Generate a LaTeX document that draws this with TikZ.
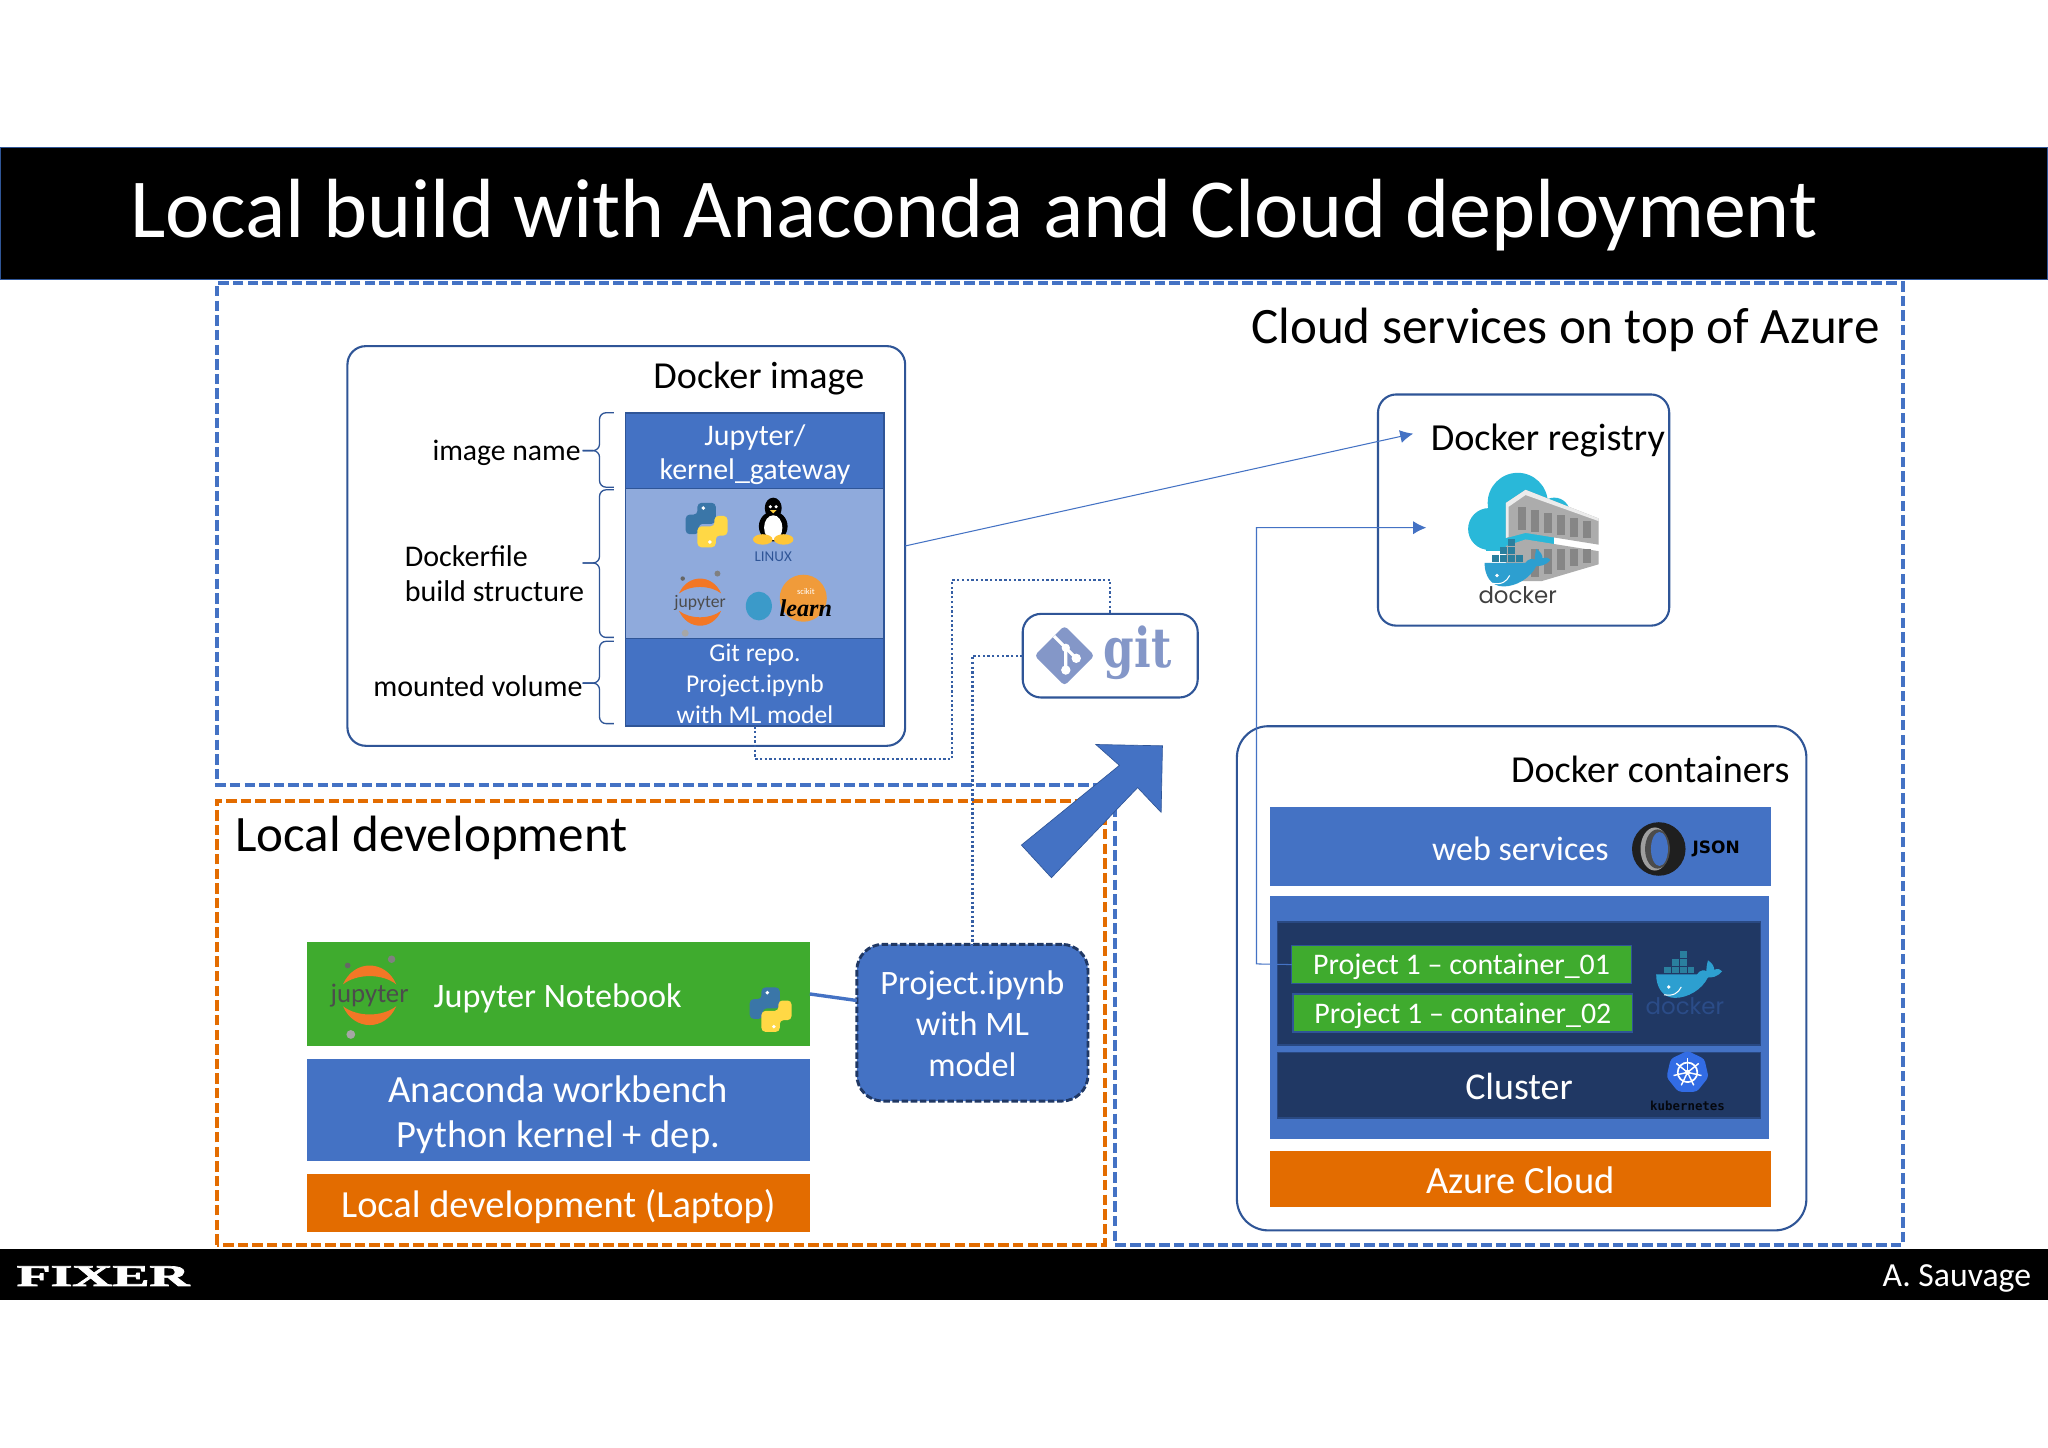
\documentclass[tikz,border=0pt]{standalone}
\usepackage{fontspec}
\usepackage{graphicx}
\setmainfont{Carlito}
\newfontfamily\lserif{Liberation Serif}
\newfontfamily\fatserif[FakeBold=2.2]{Liberation Serif Bold}
\newfontfamily\dserif{DejaVu Serif}
\newfontfamily\dsans{DejaVu Sans}
\newfontfamily\dmono{DejaVu Sans Mono}
\newfontfamily\popp{Poppins}
\usetikzlibrary{calc,arrows.meta}
\definecolor{mblue}{HTML}{4472C4}
\definecolor{mline}{HTML}{2F5597}
\definecolor{mlight}{HTML}{8FAADC}
\definecolor{mdark}{HTML}{203864}
\definecolor{mgreen}{HTML}{3FAB2E}
\definecolor{morange}{HTML}{E36C00}
\definecolor{pyblue}{HTML}{3A76A8}
\definecolor{pyyellow}{HTML}{FFD845}
\definecolor{juporange}{HTML}{F37726}
\definecolor{gitc}{HTML}{8497C8}
\definecolor{whale}{HTML}{2D9FD0}
\definecolor{whaledark}{HTML}{2A7F9E}
\definecolor{skorange}{HTML}{F09B3A}
\definecolor{skblue}{HTML}{3B9AC9}
\definecolor{kblue}{HTML}{326CE5}
\newcommand{\fs}[2]{\fontsize{#1}{#2}\selectfont}
\newcommand{\bx}[6]{\node[#6,minimum width={(#4-#2)*1pt},minimum height={(#5-#3)*1pt},anchor=north west,inner sep=0pt,outer sep=0pt] (#1) at (#2,#3) {};}
\newcommand{\tl}[4]{\node[label,text=white,align=center,font=#3] (#1text) at ($(#1.center)+(0,#2)$) {#4};}
\newcommand{\brc}[4]{\draw[braceline,rounded corners=5] (470,#1)--(459,#1)--(459,#3)--(#4,#3);\draw[braceline,rounded corners=5] (470,#2)--(459,#2)--(459,#3)--(#4,#3);}
\tikzset{
  panel/.style={draw=mline,line width=1.6pt,rounded corners=14pt,fill=white},
  solidblue/.style={fill=mblue},
  solidgreen/.style={fill=mgreen,draw=mline,line width=1pt},
  solidorange/.style={fill=morange},
  soliddark/.style={fill=mdark,draw=mline!60!mdark,line width=1pt},
  stackbox/.style={fill=mblue,draw=mline,line width=1.2pt},
  framed/.style={line width=3pt,dash pattern=on 8pt off 3.2pt},
  dotline/.style={draw=mline!70!mblue,line width=1.8pt,dash pattern=on 1.8pt off 1.8pt},
  thinline/.style={draw=mblue,line width=0.8pt},
  braceline/.style={draw=mline,line width=1pt},
  tipline/.style={-{Latex[length=10pt,width=10pt]}},
  label/.style={inner sep=0pt,outer sep=0pt,text=black},
  pics/pylogo/.style={code={
    \fill[pyblue,rounded corners=3] (-7,-17)--(7,-17)--(7,-1)--(-6,-1)--(-6,7)--(-16,7)--(-16,-8)--(-7,-8)--cycle;
    \begin{scope}[rotate=180]
    \fill[pyyellow,rounded corners=3] (-7,-17)--(7,-17)--(7,-1)--(-6,-1)--(-6,7)--(-16,7)--(-16,-8)--(-7,-8)--cycle;
    \fill[white] (-2.5,-13) circle (1.5);
    \end{scope}
    \fill[white] (-2.5,-13) circle (1.5);
  }},
  pics/tux/.style={code={
    \fill[black] (0,-11) ellipse (6.5 and 8);
    \fill[black] (0,3) ellipse (11 and 11.5);
    \fill[white] (0,4) ellipse (7 and 9.5);
    \fill[white] (-2.2,-12) circle (1.3);
    \fill[white] (2.2,-12) circle (1.3);
    \fill[pyyellow!90!orange] (-2.5,-9.5)--(2.5,-9.5)--(0,-7)--cycle;
    \fill[pyyellow!80!orange] (-8,13) ellipse (7.5 and 4);
    \fill[pyyellow!80!orange] (8,13) ellipse (7.5 and 4);
  }},
  pics/juparcs/.style={code={
    \fill[juporange] (-17,-7) .. controls (-10,-23) and (10,-23) .. (17,-7) .. controls (8,-14) and (-8,-14) .. cycle;
    \fill[juporange] (-17,7) .. controls (-10,23) and (10,23) .. (17,7) .. controls (8,14) and (-8,14) .. cycle;
    \fill[gray] (14,-23) circle (2.4);
    \fill[gray!80!black] (-14,-19) circle (1.8);
    \fill[gray!70] (-12,25) circle (2.8);
  }},
  pics/whalelogo/.style={code={
    \foreach \x/\y in {-12/-5,-7/-5,-2/-5,3/-5,-7/-10,-2/-10,-2/-15}{\fill[whaledark] (\x,\y) rectangle ++(4.4,4.4);}
    \fill[whale] (-17,0)--(9,0) .. controls (11,-3) and (14,-3) .. (15,-2) .. controls (15,-6) and (16,-8) .. (16,-9) .. controls (19,-7) and (20,-5) .. (20,-3) .. controls (23,-4) and (24,-3) .. (25,-2) .. controls (22,2) and (18,2) .. (16,2) .. controls (12,10) and (3,15) .. (-5,15) .. controls (-13,15) and (-17,8) .. cycle;
    \fill[white] (-9,8) circle (1.2);
    \draw[white,line width=.8pt] (-12,13) .. controls (-6,14) and (-3,12) .. (-1,8);
  }},
  pics/k8s/.style={code={
    \fill[kblue,rounded corners=2.5] (-90:16.5)--(-38.57:16.5)--(12.86:16.5)--(64.29:16.5)--(115.71:16.5)--(167.14:16.5)--(218.57:16.5)--cycle;
    \draw[white,line width=1.3pt] (0,0) circle (7.5);
    \fill[white] (0,0) circle (2);
    \foreach \a in {-90,-38.57,12.86,64.29,115.71,167.14,218.57}{\draw[white,line width=1.1pt] (0,0)--(\a:11);}
  }},
  pics/jsonring/.style={code={
    \fill[black!88] (0,0) circle (20.5);
    \fill[gray!75] (-3,0) ellipse (11 and 16.5);
    \fill[black!70] (-1,0) ellipse (9.5 and 15);
    \fill[mblue] (0.5,0) ellipse (6.5 and 13);
  }},
  pics/gitmark/.style={code={
    \fill[gitc,rounded corners=3] (0,-23)--(23,0)--(0,23)--(-23,0)--cycle;
    \draw[white,line width=2.4pt] (-8,-15)--(1,-6)--(1,11);
    \draw[white,line width=2.4pt] (1,-6)--(9,2);
    \fill[white] (1,-6) circle (3.2);
    \fill[white] (1,11) circle (3.6);
    \fill[white] (9,2) circle (3.6);
  }}
}
\begin{document}
\begin{tikzpicture}[x=1pt,y=-1pt]
\useasboundingbox (0,0) rectangle (1568,1108.6);
\fill[white] (0,0) rectangle (1568,1108.6);
% frames
\draw[framed,draw=mblue] (854,953)--(1457,953)--(1457,217)--(166,217)--(166,601)--(854,601)--cycle;
\draw[framed,draw=morange] (166,953)--(166,613)--(846,613)--(846,953)--cycle;
% header & footer
\bx{header}{0}{113}{1568}{214}{fill=black,draw=mline,line width=1pt}
\node[label,text=white,anchor=base west,font=\fs{64.3}{70}] (title) at (100,182) {Local build with Anaconda and Cloud deployment};
\bx{footer}{0}{956}{1568}{995}{fill=black}
\node[label,text=white,anchor=center,font=\fatserif\fs{23}{25}] (fixer) at (79,977) {\scalebox{1.85}[1]{FIXER}};
\node[label,text=white,anchor=east,font=\fs{25.8}{28}] (author) at (1555,979) {A. Sauvage};
% frame labels
\node[label,anchor=base east,font=\fs{39.1}{42}] (cloudlab) at (1439,263) {Cloud services on top of Azure};
\node[label,anchor=base west,font=\fs{39.1}{42}] (locallab) at (180,652) {Local development};
% docker image
\bx{dockerimg}{266}{265}{693}{571}{panel}
\node[label,font=\fs{29.2}{32}] (dilab) at (581,290) {Docker image};
\bx{imgname}{479}{316}{677}{374}{stackbox}
\tl{imgname}{3}{\fs{22.9}{27}}{Jupyter/\\[-.5pt]kernel\_gateway}
\bx{build}{479}{374}{677}{489}{stackbox,fill=mlight}
\bx{vol}{479}{489}{677}{556}{stackbox}
\tl{vol}{1}{\fs{19.6}{23.5}}{Git repo.\\Project.ipynb\\with ML model}
\pic at (541,402) {pylogo};
\pic at (592,400) {tux};
\node[label,text=mline,font=\fs{11.5}{13}] (linuxlab) at (592,426) {LINUX};
\pic[scale=.95] at (536,461) {juparcs};
\node[label,text=black!70,font=\fs{13.5}{15}] (juplab1) at (536,462) {jupyter};
\fill[skblue] (581,464) ellipse (10 and 11);
\fill[skorange] (615,458) circle (18);
\node[label,text=white,font=\fs{6.5}{7}] (sklab) at (617,453) {scikit};
\node[label,font=\lserif\bfseries\itshape\fs{18.5}{21}] (learnlab) at (617,466) {learn};
\brc{316}{373}{345}{446}
\brc{375}{488}{431}{446}
\brc{491}{554}{523}{446}
\node[label,anchor=east,font=\fs{22.7}{27}] (l1) at (444.5,346.5) {image name};
\node[label,anchor=west,align=left,font=\fs{23}{27}] (l2) at (310,439) {Dockerfile\\build structure};
\node[label,anchor=east,font=\fs{23}{27}] (l3) at (446,525) {mounted volume};
% git
\bx{gitbox}{783}{470}{917}{534}{panel}
\pic at (815,502) {gitmark};
\node[label,text=gitc,font=\dserif\bfseries\fs{42}{44}] (gitlab) at (871,500) {\scalebox{.8}[1]{git}};
% registry
\bx{registry}{1055}{302}{1278}{479}{panel}
\node[label,font=\fs{29.3}{32}] (reglab) at (1185,337) {Docker registry};
\fill[skblue!70!cyan] (1140,405) circle (16);
\fill[skblue!70!cyan] (1162,385) circle (23);
\fill[skblue!70!cyan] (1190,393) circle (12);
\fill[skblue!70!cyan] (1138,395) rectangle (1190,422);
\fill[gray!65] (1153,385)--(1168,375)--(1224,397)--(1224,417)--(1168,408)--(1153,412)--cycle;
\fill[white!85!gray] (1153,385)--(1168,375)--(1224,397)--(1224,399)--(1168,379)--(1155,388)--(1155,411)--(1153,412)--cycle;
\foreach \x in {1162,1172,1182,1192,1202,1212}{\fill[gray!95] (\x,{388+(\x-1162)*.22}) rectangle ++(6,{18-(\x-1162)*.1});}
\fill[gray!65] (1153,418)--(1168,413)--(1224,422)--(1224,432)--(1180,445)--(1153,445)--cycle;
\foreach \x in {1172,1182,1192,1202,1212}{\fill[gray!95] (\x,420) rectangle ++(6,{22-(\x-1172)*.28});}
\pic[scale=1.2] at (1157,431) {whalelogo};
\node[label,text=black!75,font=\popp\fs{17.5}{22}] (doc1) at (1162,456) {docker};
% containers
\bx{containers}{947}{556}{1383}{942}{panel,rounded corners=24pt}
\node[label,anchor=east,font=\fs{29.2}{32}] (contlab) at (1370,589) {Docker containers};
\bx{websvc}{972}{618}{1356}{678}{fill=mblue}
\node[label,text=white,font=\fs{26}{30}] (weblab) at (1164,650) {web services};
\pic at (1270,650) {jsonring};
\node[label,text=black,font=\dsans\bfseries\fs{13}{15}] (jsonlab) at (1314,650) {JSON};
\bx{clusterbg}{972}{686}{1354}{872}{fill=mblue}
\bx{inner}{978}{706}{1348}{800}{soliddark}
\bx{cluster}{978}{806}{1348}{856}{soliddark}
\tl{cluster}{1}{\fs{29}{32}}{Cluster}
\bx{c1}{989}{724}{1249}{753}{solidgreen}
\tl{c1}{2}{\fs{22.9}{25}}{Project 1 -- container\_01}
\bx{c2}{990}{761}{1250}{790}{solidgreen}
\tl{c2}{2}{\fs{22.9}{25}}{Project 1 -- container\_02}
\pic[scale=1.2] at (1288.4,746) {whalelogo};
\node[label,text=mline!70!mdark,font=\popp\fs{17.5}{22}] (doc2) at (1290,770) {docker};
\pic at (1292,821) {k8s};
\node[label,text=black!85!mdark,font=\dmono\bfseries\fs{9.5}{11}] (k8slab) at (1292,847) {kubernetes};
\bx{azure}{972}{881}{1356}{924}{solidorange}
\tl{azure}{1}{\fs{29.5}{32}}{Azure Cloud}
% local
\bx{jupnb}{235}{721}{620}{801}{fill=mgreen}
\pic[scale=1.2] at (283,762) {juparcs};
\node[label,text=black!70,font=\fs{20.5}{25}] (juplab2) at (283,762) {jupyter};
\node[label,text=white,font=\fs{26.2}{30}] (jnlab) at (427,764) {Jupyter Notebook};
\pic at (590,773) {pylogo};
\bx{anaconda}{235}{811}{620}{889}{solidblue}
\tl{anaconda}{3.5}{\fs{29.5}{35}}{Anaconda workbench\\Python kernel + dep.}
\bx{laptop}{235}{899}{620}{943}{solidorange}
\tl{laptop}{3}{\fs{29.4}{32}}{Local development (Laptop)}
\bx{proj}{656}{723}{833}{843}{fill=mblue,draw=mdark,line width=2.2pt,dash pattern=on 5pt off 2pt,rounded corners=20pt}
\tl{proj}{1}{\fs{26.2}{31.5}}{Project.ipynb\\with ML\\model}
% connectors
\coordinate (regtip) at (1082,332);
\coordinate (regicon) at (1092,404);
\draw[thinline,tipline] (dockerimg.east) -- (regtip);
\draw[thinline,tipline] (c1.west) -- (962,738) -- (962,404) -- (regicon);
\draw[mblue,line width=2.6pt] (jupnb.east) -- ($(proj.west)+(0,-17)$);
\draw[dotline] (vol.south) -- (578,581) -- (729,581) -- (729,444) -- (850,444) -- (gitbox.north);
\draw[dotline] (gitbox.west) -| (proj.north);
% big arrow
\fill[mblue,draw=mline,line width=.5pt] (839,570)--(890,571)--(889,622)--(871,603)--(805,672)--(782,647)--(857,586)--cycle;
\end{tikzpicture}
\end{document}
